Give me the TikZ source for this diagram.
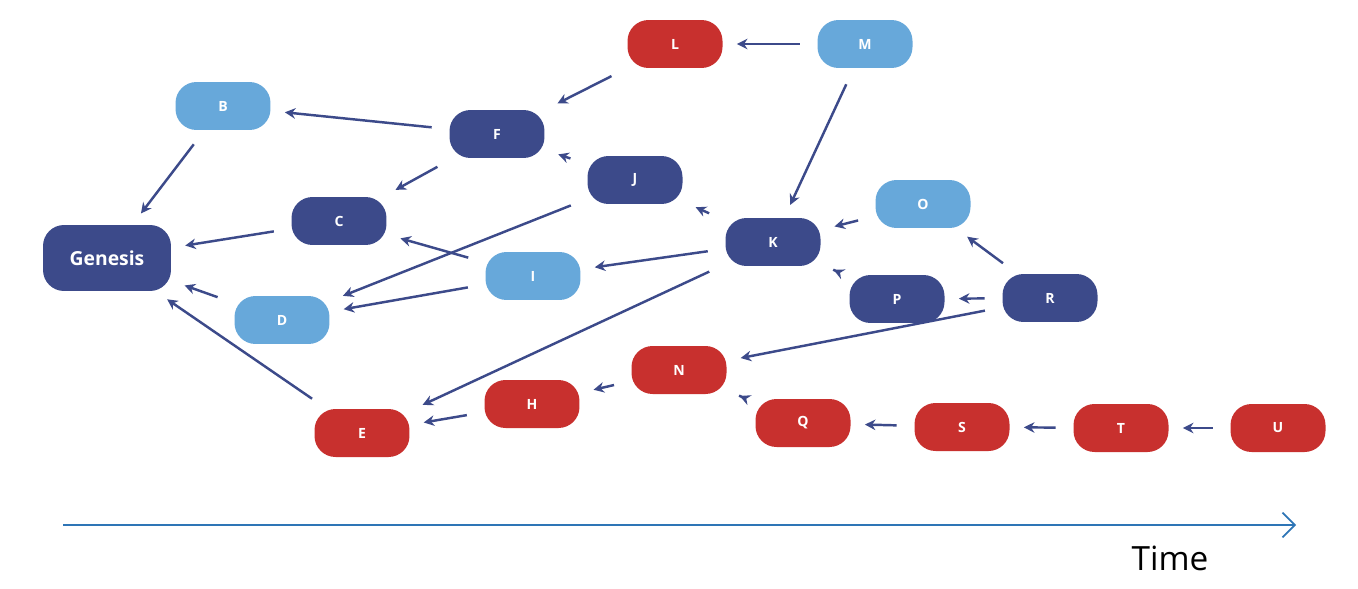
\documentclass[tikz,border=0pt]{standalone}
\usepackage{fontspec}
\setmainfont{Open Sans}
\usetikzlibrary{arrows.meta}
\definecolor{navy}{HTML}{3C4A8A}
\definecolor{lblue}{HTML}{67A8DA}
\definecolor{dred}{HTML}{C8302E}
\definecolor{axis}{HTML}{2E75B6}
\begin{document}
\begin{tikzpicture}[x=0.02cm,y=-0.02cm,
 blk/.style={rounded corners=0.42cm,minimum width=1.9cm,minimum height=0.96cm,text=white,font=\bfseries\fontsize{8}{9}\selectfont,inner sep=0pt},
 nv/.style={blk,fill=navy},
 lb/.style={blk,fill=lblue},
 rd/.style={blk,fill=dred},
 ar/.style={draw=navy,line width=1.4pt,-{Stealth[length=6pt,width=6pt]},shorten <=10pt,shorten >=8pt}]
\useasboundingbox (0,0) rectangle (1358,588);
\node[nv,minimum width=2.56cm,minimum height=1.32cm,font=\bfseries\fontsize{11}{13}\selectfont] (G) at (107,258) {Genesis};
\node[lb] (B) at (223,106) {B};
\node[nv] (F) at (497,134) {F};
\node[rd] (L) at (675,44) {L};
\node[lb] (M) at (865,44) {M};
\node[nv] (J) at (635,180) {J};
\node[nv] (C) at (339,221) {C};
\node[nv] (K) at (773,242) {K};
\node[lb] (O) at (923,204) {O};
\node[lb] (I) at (533,276) {I};
\node[lb] (D) at (282,320) {D};
\node[nv] (P) at (897,299) {P};
\node[nv] (R) at (1050,298) {R};
\node[rd] (N) at (679,370) {N};
\node[rd] (H) at (532,404) {H};
\node[rd] (E) at (362,433) {E};
\node[rd] (Q) at (803,423) {Q};
\node[rd] (S) at (962,427) {S};
\node[rd] (T) at (1121,428) {T};
\node[rd] (U) at (1278,428) {U};
\foreach \a/\b in {B/G,F/B,F/C,L/F,M/L,M/K,J/F,J/D,C/G,I/C,I/D,D/G,E/G,K/J,K/I,K/E,O/K,P/K,R/O,R/P,R/N,N/H,H/E,Q/N,S/Q,T/S,U/T}
  \draw[ar] (\a) -- (\b);
\coordinate (t0) at (63,525);
\coordinate (t1) at (1296,525);
\draw[axis,line width=1pt,-{Straight Barb[length=7pt,width=14pt]}] (t0) -- (t1);
\node[font=\fontsize{19}{22}\selectfont] (time) at (1170,558) {Time};
\end{tikzpicture}
\end{document}
